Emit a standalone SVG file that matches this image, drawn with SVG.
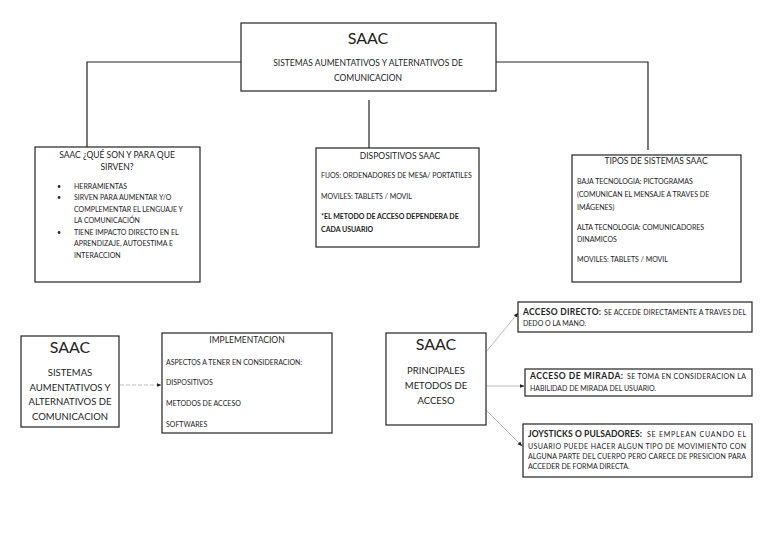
<svg xmlns="http://www.w3.org/2000/svg" width="768" height="543" viewBox="0 0 768 543">
<defs>
<style>
text{font-family:Lato,"Liberation Sans",sans-serif;fill:#222}
.box{fill:#fff;stroke:#222;stroke-width:1.2}
.t{font-size:7px}
.s{font-size:7px}
.h{font-size:8.5px}
.big{font-size:16px}
.m{font-size:9.5px}
.b{font-size:8.5px;font-weight:bold}
.c{text-anchor:middle}
.ln{fill:none;stroke:#222;stroke-width:1.2}
.ar{fill:none;stroke:#aaa;stroke-width:0.8}
</style>
<marker id="ah" viewBox="0 0 10 10" refX="9" refY="5" markerWidth="6" markerHeight="6" orient="auto"><path d="M0,1 L10,5 L0,9 z" fill="#222"/></marker>
</defs>
<rect width="768" height="543" fill="#fff"/>
<g id="connectors">
<path class="ln" d="M241,62 H87 V147"/>
<path class="ln" d="M496,62 H648 V150"/>
<path class="ln" d="M369,100 V148"/>
<path class="ar" d="M120,385 H161" stroke-dasharray="4,2" marker-end="url(#ah)"/>
<path class="ar" d="M486,352 L518,313" marker-end="url(#ah)"/>
<path class="ar" d="M486,386 H524" marker-end="url(#ah)"/>
<path class="ar" d="M486,410 L522,446" marker-end="url(#ah)"/>
</g>
<g id="top">
<rect class="box" x="241" y="23" width="255" height="68"/>
<text class="big c" x="368" y="44">SAAC</text>
<text class="h c" x="368" y="66">SISTEMAS AUMENTATIVOS Y ALTERNATIVOS DE</text>
<text class="h c" x="368" y="81">COMUNICACION</text>
</g>
<g id="que-son">
<rect class="box" x="35" y="147" width="165" height="135"/>
<text class="h c" x="117" y="158">SAAC ¿QUÉ SON Y PARA QUE</text>
<text class="h c" x="117" y="170">SIRVEN?</text>
<g class="t">
<text x="57" y="189">•</text><text x="74" y="189">HERRAMIENTAS</text>
<text x="57" y="200">•</text><text x="74" y="200">SIRVEN PARA AUMENTAR  Y/O</text>
<text x="74" y="212">COMPLEMENTAR EL LENGUAJE Y</text>
<text x="74" y="223">LA COMUNICACIÓN</text>
<text x="57" y="235">•</text><text x="74" y="235">TIENE IMPACTO DIRECTO EN EL</text>
<text x="74" y="246">APRENDIZAJE, AUTOESTIMA E</text>
<text x="74" y="258">INTERACCION</text>
</g>
</g>
<g id="dispositivos">
<rect class="box" x="316" y="148" width="163" height="99"/>
<text class="h c" x="400" y="159">DISPOSITIVOS SAAC</text>
<text class="t" x="321" y="178">FIJOS: ORDENADORES DE MESA/ PORTATILES</text>
<text class="t" x="321" y="199">MOVILES: TABLETS / MOVIL</text>
<text class="t" x="321" y="219" font-weight="bold">*EL METODO DE ACCESO DEPENDERA DE</text>
<text class="t" x="321" y="232" font-weight="bold">CADA USUARIO</text>
</g>
<g id="tipos">
<rect class="box" x="572" y="155" width="169" height="127"/>
<text class="h c" x="656" y="164">TIPOS DE SISTEMAS SAAC</text>
<g class="t">
<text x="577" y="184">BAJA TECNOLOGIA: PICTOGRAMAS</text>
<text x="577" y="197">(COMUNICAN EL MENSAJE A TRAVES DE</text>
<text x="577" y="210">IMÁGENES)</text>
<text x="577" y="230">ALTA TECNOLOGIA: COMUNICADORES</text>
<text x="577" y="242">DINAMICOS</text>
<text x="577" y="262">MOVILES: TABLETS / MOVIL</text>
</g>
</g>
<g id="saac-left">
<rect class="box" x="21" y="336" width="98" height="91"/>
<text class="big c" x="70" y="353">SAAC</text>
<g class="m c">
<text x="70" y="376">SISTEMAS</text>
<text x="70" y="391">AUMENTATIVOS Y</text>
<text x="70" y="405">ALTERNATIVOS DE</text>
<text x="70" y="420">COMUNICACION</text>
</g>
</g>
<g id="implementacion">
<rect class="box" x="162" y="333" width="170" height="100"/>
<text class="h c" x="247" y="343">IMPLEMENTACION</text>
<g class="t">
<text x="166" y="365">ASPECTOS A TENER EN CONSIDERACION:</text>
<text x="166" y="385">DISPOSITIVOS</text>
<text x="166" y="406">METODOS DE ACCESO</text>
<text x="166" y="427">SOFTWARES</text>
</g>
</g>
<g id="saac-metodos">
<rect class="box" x="386" y="333" width="100" height="92"/>
<text class="big c" x="436" y="350">SAAC</text>
<g class="m c">
<text x="436" y="374">PRINCIPALES</text>
<text x="436" y="389">METODOS DE</text>
<text x="436" y="404">ACCESO</text>
</g>
</g>
<g id="directo">
<rect class="box" x="518" y="302" width="234" height="30"/>
<text class="b" x="523" y="315" textLength="78" lengthAdjust="spacing">ACCESO  DIRECTO:</text>
<text class="s" x="604" y="315" textLength="142" lengthAdjust="spacing">SE ACCEDE DIRECTAMENTE A TRAVES DEL</text>
<text class="s" x="523" y="326">DEDO O LA MANO.</text>
</g>
<g id="mirada">
<rect class="box" x="525" y="369" width="227" height="27"/>
<text class="b" x="530" y="379" textLength="93" lengthAdjust="spacing">ACCESO DE MIRADA:</text>
<text class="s" x="627" y="379" textLength="119" lengthAdjust="spacing">SE TOMA EN CONSIDERACION LA</text>
<text class="s" x="530" y="391">HABILIDAD DE MIRADA DEL USUARIO.</text>
</g>
<g id="joysticks">
<rect class="box" x="523" y="424" width="229" height="53"/>
<text class="b" x="528" y="437" textLength="114" lengthAdjust="spacing">JOYSTICKS O PULSADORES:</text>
<text class="s" x="647" y="437" textLength="99" lengthAdjust="spacing">SE EMPLEAN CUANDO EL</text>
<text class="s" x="528" y="449" textLength="218" lengthAdjust="spacing">USUARIO PUEDE HACER ALGUN TIPO DE MOVIMIENTO CON</text>
<text class="s" x="528" y="459" textLength="218" lengthAdjust="spacing">ALGUNA PARTE DEL CUERPO PERO CARECE DE PRESICION PARA</text>
<text class="s" x="528" y="469">ACCEDER DE FORMA DIRECTA.</text>
</g>
</svg>
